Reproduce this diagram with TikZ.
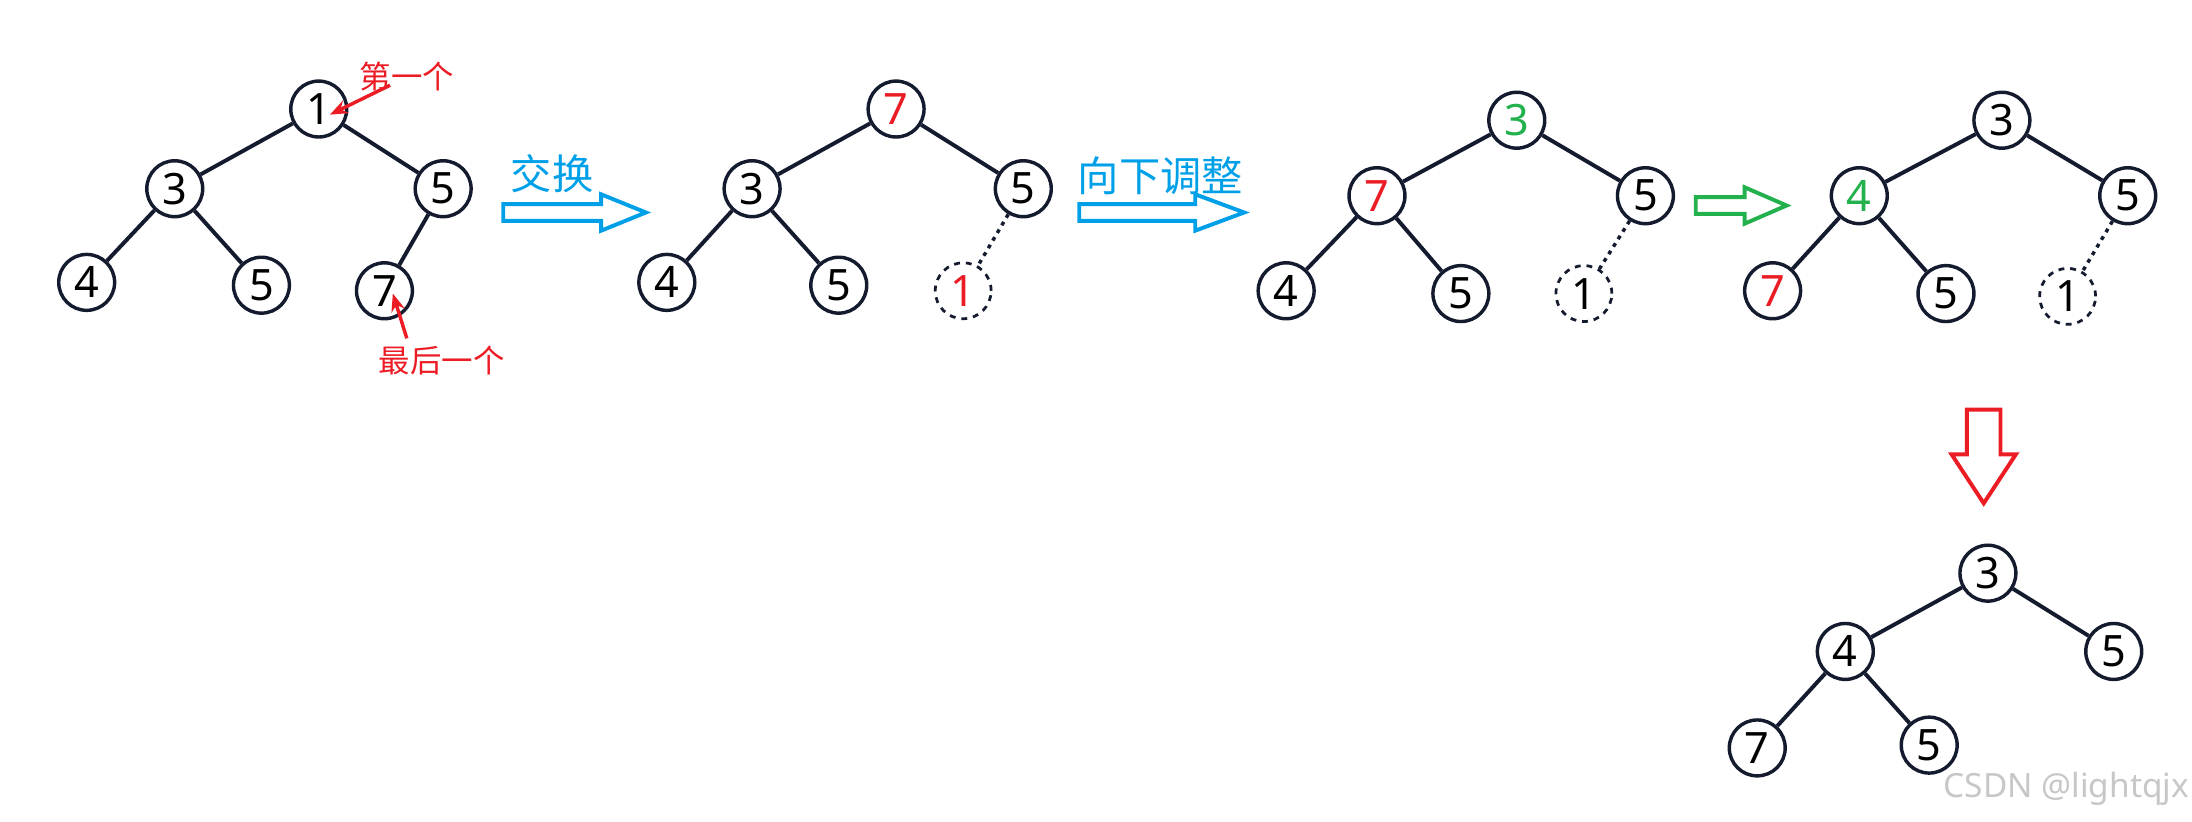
\documentclass[tikz,border=0pt]{standalone}
\usepackage{fontspec}
\usetikzlibrary{arrows.meta}
\setmainfont{Noto Sans}
\newfontfamily\cjk{Noto Sans CJK SC}
\definecolor{myblue}{HTML}{00A0E9}
\definecolor{mygreen}{HTML}{22B14C}
\definecolor{myred}{HTML}{EC1C24}
\definecolor{ink}{HTML}{151B2E}
\begin{document}
\begin{tikzpicture}[x=0.05cm,y=-0.05cm,
  nd/.style={circle,draw=ink,line width=3.5pt,minimum size=2cm,inner sep=0pt,fill=white,font=\fontsize{44}{46}\selectfont},
  dnd/.style={nd,dash pattern=on 6pt off 6pt,line width=2.8pt},
  ed/.style={draw=ink,line width=4pt},
  ded/.style={draw=ink,line width=3.5pt,dash pattern=on 4pt off 5pt},
  lab/.style={font=\cjk\fontsize{32}{34}\selectfont,text=myred},
  big/.style={font=\cjk\fontsize{42}{44}\selectfont,text=myblue},
  hol/.style={line width=4pt,line join=miter}]
\useasboundingbox (0,0) rectangle (1568,588);
% tree A
\node[nd] (a1) at (228,78) {1};
\node[nd] (a3) at (125,135) {3};
\node[nd] (a5) at (317,135) {5};
\node[nd] (a4) at (62,202) {4};
\node[nd] (a5b) at (187,204) {5};
\node[nd] (a7) at (275,208) {7};
\draw[ed] (a1)--(a3) (a1)--(a5) (a3)--(a4) (a3)--(a5b) (a5)--(a7);
\node[lab] (l1) at (291,55) {第一个};
\node[lab] (l2) at (316,258) {最后一个};
\coordinate (l1s) at (279,61);
\coordinate (l1e) at (236,82);
\draw[myred,line width=3.5pt,-{Stealth[length=18pt,width=14pt]}] (l1s)--(l1e);
\coordinate (l2s) at (291,242);
\coordinate (l2e) at (281,210);
\draw[myred,line width=3.5pt,-{Stealth[length=18pt,width=14pt]}] (l2s)--(l2e);
% arrow 1
\node[big] (t1) at (395,124) {交换};
\draw[hol,draw=myblue] (360,146)--(430,146)--(430,139)--(462,152)--(430,165)--(430,158)--(360,158)--cycle;
% tree B
\node[nd,text=myred] (b7) at (641,78) {7};
\node[nd] (b3) at (538,135) {3};
\node[nd] (b5) at (732,135) {5};
\node[nd] (b4) at (477,202) {4};
\node[nd] (b5b) at (600,204) {5};
\node[dnd,text=myred] (b1) at (689,208) {1};
\draw[ed] (b7)--(b3) (b7)--(b5) (b3)--(b4) (b3)--(b5b);
\draw[ded] (b5)--(b1);
% arrow 2
\node[big] (t2) at (830,126) {向下调整};
\draw[hol,draw=myblue] (772,146)--(855,146)--(855,139)--(890,152)--(855,165)--(855,158)--(772,158)--cycle;
% tree C
\node[nd,text=mygreen] (c3) at (1085,86) {3};
\node[nd,text=myred] (c7) at (985,140) {7};
\node[nd] (c5) at (1177,140) {5};
\node[nd] (c4) at (920,208) {4};
\node[nd] (c5b) at (1045,210) {5};
\node[dnd] (c1) at (1133,210) {1};
\draw[ed] (c3)--(c7) (c3)--(c5) (c7)--(c4) (c7)--(c5b);
\draw[ded] (c5)--(c1);
% green arrow
\draw[hol,draw=mygreen] (1213,141)--(1248,141)--(1248,134)--(1278,147)--(1248,160)--(1248,153)--(1213,153)--cycle;
% tree D
\node[nd] (d3) at (1432,86) {3};
\node[nd,text=mygreen] (d4) at (1330,140) {4};
\node[nd] (d5) at (1522,140) {5};
\node[nd,text=myred] (d7) at (1268,208) {7};
\node[nd] (d5b) at (1392,210) {5};
\node[dnd] (d1) at (1479,212) {1};
\draw[ed] (d3)--(d4) (d3)--(d5) (d4)--(d7) (d4)--(d5b);
\draw[ded] (d5)--(d1);
% red down arrow
\draw[hol,draw=myred] (1407,293)--(1431,293)--(1431,325)--(1442,325)--(1419,360)--(1396,325)--(1407,325)--cycle;
% tree E
\node[nd] (e3) at (1422,410) {3};
\node[nd] (e4) at (1320,466) {4};
\node[nd] (e5) at (1512,466) {5};
\node[nd] (e7) at (1257,535) {7};
\node[nd] (e5b) at (1380,533) {5};
\draw[ed] (e3)--(e4) (e3)--(e5) (e4)--(e7) (e4)--(e5b);
% watermark
\node[anchor=east,text=black!22,font=\fontsize{34}{36}\selectfont,inner sep=0pt] (wm) at (1566,564) {CSDN @lightqjx};
\end{tikzpicture}
\end{document}
